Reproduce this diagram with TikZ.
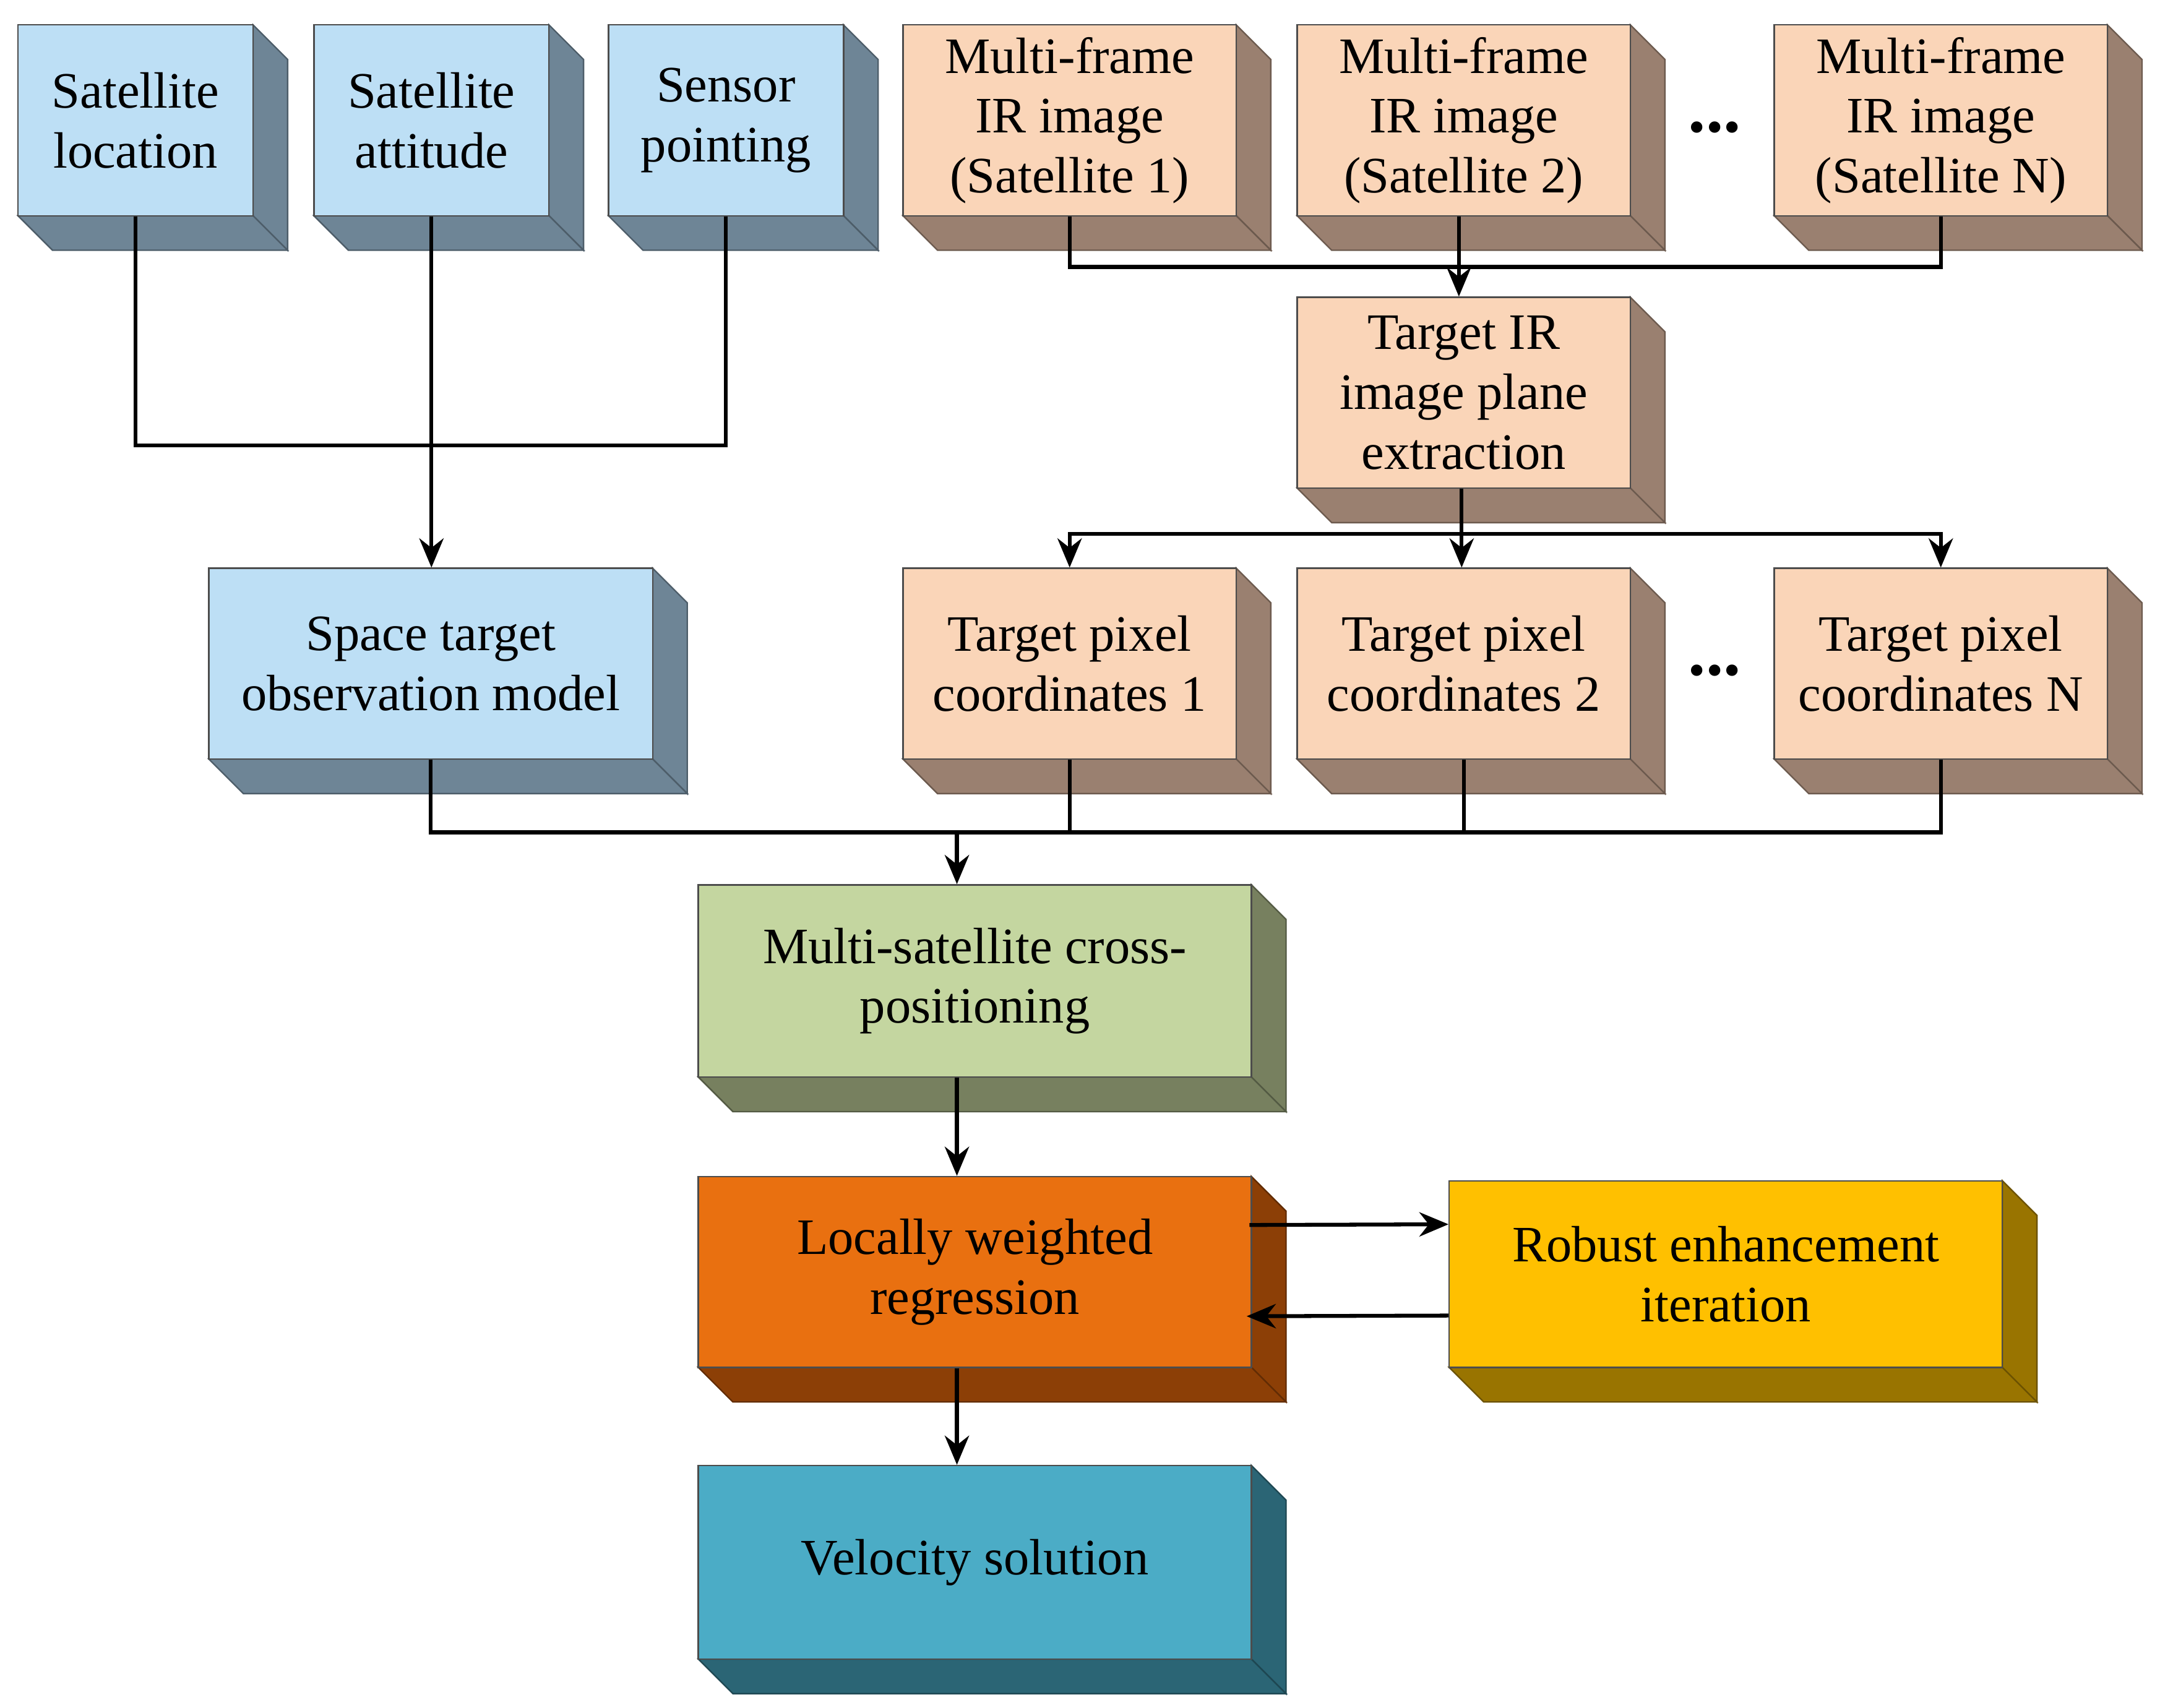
\documentclass[tikz,border=0pt]{standalone}
\usepackage{fontspec}
\setmainfont{Liberation Serif}
\usetikzlibrary{arrows.meta,calc}
\definecolor{bF}{HTML}{BDDFF5}\definecolor{bS}{HTML}{6E8596}
\definecolor{oF}{HTML}{FAD5B8}\definecolor{oS}{HTML}{9A8070}
\definecolor{gF}{HTML}{C4D6A0}\definecolor{gS}{HTML}{77805F}
\definecolor{rF}{HTML}{E97010}\definecolor{rS}{HTML}{8C3F06}
\definecolor{yF}{HTML}{FFC000}\definecolor{yS}{HTML}{997400}
\definecolor{tF}{HTML}{4BACC6}\definecolor{tS}{HTML}{2B6575}
\newcommand{\cube}[8]{%
 \fill[#7,draw=#7!70!black,line width=0.3pt] (#4,#3)--(#4+25,#3+25)--(#4+25,#5+25)--(#4,#5)--cycle;
 \fill[#7,draw=#7!70!black,line width=0.3pt] (#2,#5)--(#4,#5)--(#4+25,#5+25)--(#2+25,#5+25)--cycle;
 \node[box,fill=#6,minimum width={(#4-#2)*0.01cm},minimum height={(#5-#3)*0.01cm}] (#1) at ({(#2+#4)/2},{(#3+#5)/2}) {#8};}
\tikzset{box/.style={draw=#1!60!black,line width=0.3pt,inner sep=0pt,align=center,font=\fontsize{10.5pt}{12.3pt}\selectfont},
 box/.default=gray,
 ln/.style={line width=0.8pt},ar/.style={ln,-{Stealth[length=6pt,width=5pt]}}}
\begin{document}
\begin{tikzpicture}[x=0.01cm,y=-0.01cm]
\useasboundingbox (0,0) rectangle (1562,1235);
\cube{sl}{13}{18}{183}{156}{bF}{bS}{Satellite\\location}
\cube{sa}{227}{18}{397}{156}{bF}{bS}{Satellite\\attitude}
\cube{sp}{440}{18}{610}{156}{bF}{bS}{Sensor\\pointing}
\cube{m1}{653}{18}{894}{156}{oF}{oS}{Multi-frame\\IR image\\(Satellite 1)}
\cube{m2}{938}{18}{1179}{156}{oF}{oS}{Multi-frame\\IR image\\(Satellite 2)}
\cube{mn}{1283}{18}{1524}{156}{oF}{oS}{Multi-frame\\IR image\\(Satellite N)}
\node[font=\Large\bfseries] (d1) at (1240,92) {...};
\cube{ti}{938}{215}{1179}{353}{oF}{oS}{Target IR\\image plane\\extraction}
\cube{st}{151}{411}{472}{549}{bF}{bS}{Space target\\observation model}
\cube{p1}{653}{411}{894}{549}{oF}{oS}{Target pixel\\coordinates 1}
\cube{p2}{938}{411}{1179}{549}{oF}{oS}{Target pixel\\coordinates 2}
\cube{pn}{1283}{411}{1524}{549}{oF}{oS}{Target pixel\\coordinates N}
\node[font=\Large\bfseries] (d2) at (1240,485) {...};
\cube{ms}{505}{640}{905}{779}{gF}{gS}{Multi-satellite cross-\\positioning}
\cube{lw}{505}{851}{905}{989}{rF}{rS}{Locally weighted\\regression}
\cube{re}{1048}{854}{1448}{989}{yF}{yS}{Robust enhancement\\iteration}
\cube{vs}{505}{1060}{905}{1200}{tF}{tS}{Velocity solution}
% top left
\coordinate (j1) at (314,322);
\draw[ln] (sl.south) |- (j1) -| (sp.south);
\draw[ar] (sa.south) -- (st.north -| sa.south);
% top right
\coordinate (j2) at (1055,193);
\draw[ln] (m1.south) |- (j2) -| (mn.south);
\draw[ar] (m2.south -| j2) -- (ti.north -| j2);
\coordinate (j3) at (1057,386);
\draw[ln] (ti.south -| j3) -- (j3);
\draw[ar] (j3) -| (p1.north);
\draw[ar] (j3) -| (pn.north);
\draw[ar] (j3) -- (p2.north -| j3);
% bottom collection
\coordinate (j4) at (692,602);
\draw[ln] (st.south) |- (j4) -| (pn.south);
\draw[ln] (p1.south) -- (p1.south |- j4);
\draw[ln] (p2.south) -- (p2.south |- j4);
\draw[ar] (j4) -- (ms.north -| j4);
\draw[ar] (ms.south -| j4) -- (lw.north -| j4);
\draw[ar] ($(lw.east)+(-2,-34)$) -- ($(re.west)+(0,-36)$);
\draw[ar] ($(re.west)+(0,30)$) -- ($(lw.east)+(-4,32)$);
\draw[ar] (lw.south -| j4) -- (vs.north -| j4);
\end{tikzpicture}
\end{document}
